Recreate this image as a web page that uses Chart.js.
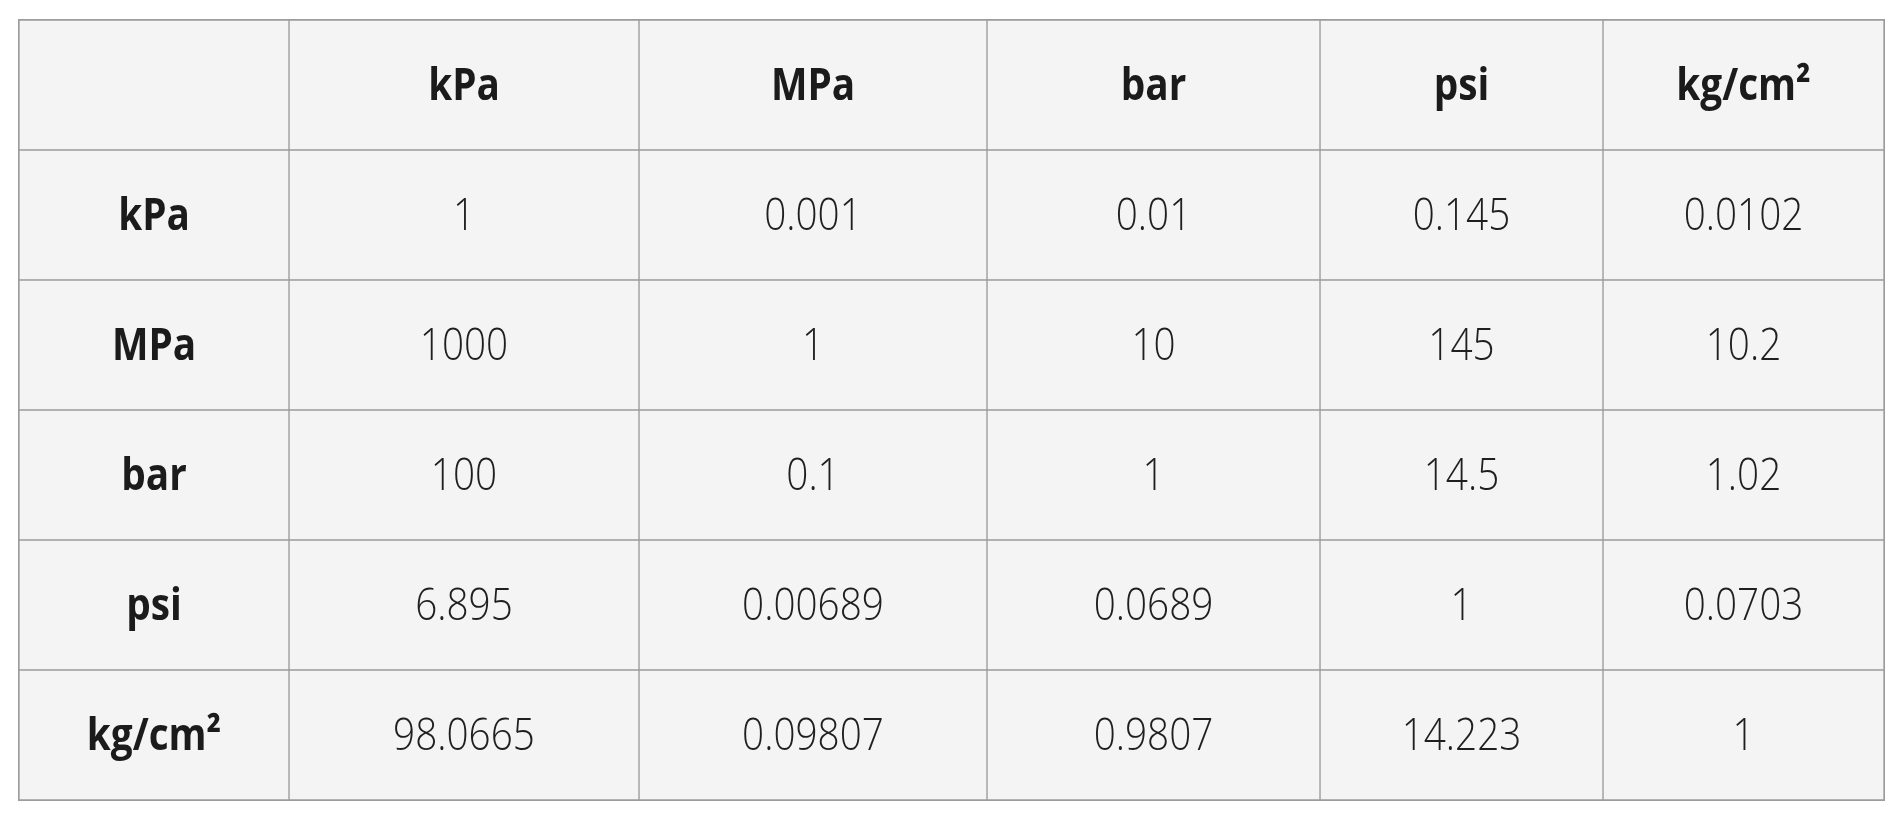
<!DOCTYPE html>
<html>
<head>
<meta charset="utf-8">
<script src="https://cdn.jsdelivr.net/npm/chart.js@4.4.1/dist/chart.umd.min.js"></script>
<style>
  html, body { margin: 0; padding: 0; background: #fff; }
  #wrap { width: 1902px; height: 827px; }
</style>
</head>
<body>
<div id="wrap"><canvas id="tableChart"></canvas></div>
<script>
// units (header row and first column)
const units = ['kPa', 'MPa', 'bar', 'psi', 'kg/cm²'];

// conversion factors, one array per row (row unit -> column unit)
const fromKPa = [1, 0.001, 0.01, 0.145, 0.0102];
const fromMPa = [1000, 1, 10, 145, 10.2];
const fromBar = [100, 0.1, 1, 14.5, 1.02];
const fromPsi = [6.895, 0.00689, 0.0689, 1, 0.0703];
const fromKgCm2 = [98.0665, 0.09807, 0.9807, 14.223, 1];

const rows = [fromKPa, fromMPa, fromBar, fromPsi, fromKgCm2];

// column widths of the table (layout only)
const colWidths = [270, 350, 348, 333, 283, 281];

const rowLabels = [''].concat(units);

const datasets = colWidths.map((w, i) => ({
  label: i === 0 ? '' : units[i - 1],
  data: rowLabels.map(() => w),
  backgroundColor: '#f4f4f4',
  borderColor: '#9c9c9c',
  borderWidth: 1,
  borderSkipped: false,
  barPercentage: 1,
  categoryPercentage: 1,
}));

function cellText(col, row) {
  if (row === 0) return col === 0 ? '' : units[col - 1];
  if (col === 0) return units[row - 1];
  return String(rows[row - 1][col - 1]);
}

// writes the text into every cell, centred on the bar the library drew
const cellLabels = {
  id: 'cellLabels',
  afterDatasetsDraw(chart) {
    const ctx = chart.ctx;
    const area = chart.chartArea;
    ctx.save();
    // outer frame a bit heavier, like the reference
    ctx.strokeStyle = '#9c9c9c';
    ctx.lineWidth = 1;
    ctx.strokeRect(area.left - 0.5, area.top - 0.5, area.right - area.left + 1, area.bottom - area.top + 1);

    const size = 44;
    chart.data.datasets.forEach((ds, col) => {
      chart.getDatasetMeta(col).data.forEach((bar, row) => {
        const txt = cellText(col, row);
        if (!txt) return;
        const bold = row === 0 || col === 0;
        const cx = (bar.x + bar.base) / 2;
        const cy = bar.y + size * 0.35;
        ctx.save();
        ctx.translate(cx, cy);
        ctx.scale(0.88, 1);
        ctx.font = (bold ? '700 ' : '300 ') + size + 'px "Open Sans", "Noto Sans", sans-serif';
        ctx.fillStyle = bold ? '#1b1b1b' : '#1f1f1f';
        ctx.textAlign = 'center';
        ctx.textBaseline = 'alphabetic';
        ctx.fillText(txt, 0, 0);
        ctx.restore();
      });
    });
    ctx.restore();
  }
};

new Chart(document.getElementById('tableChart'), {
  type: 'bar',
  data: {
    labels: rowLabels,
    datasets: datasets
  },
  options: {
    indexAxis: 'y',
    responsive: true,
    maintainAspectRatio: false,
    animation: false,
    devicePixelRatio: 1,
    layout: {
      padding: { left: 19, right: 18, top: 20, bottom: 27 }
    },
    plugins: {
      legend: { display: false },
      tooltip: { enabled: false }
    },
    scales: {
      x: {
        stacked: true,
        display: false,
        min: 0,
        max: colWidths.reduce((a, b) => a + b, 0)
      },
      y: {
        stacked: true,
        display: false
      }
    }
  },
  plugins: [cellLabels]
});
</script>
</body>
</html>
